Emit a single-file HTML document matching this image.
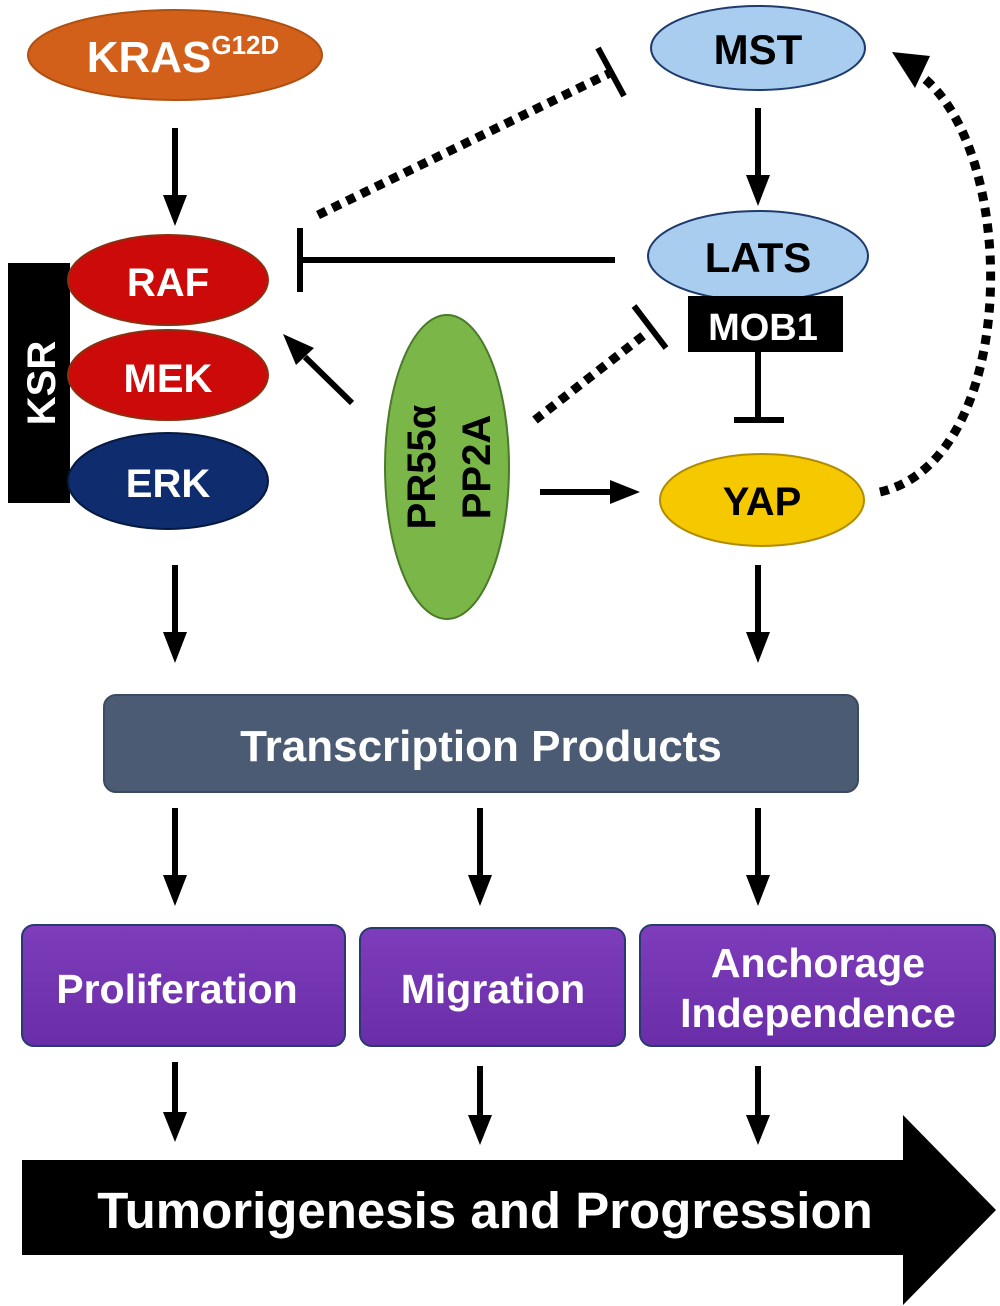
<!DOCTYPE html>
<html><head><meta charset="utf-8"><style>
html,body{margin:0;padding:0;background:#fff;}
svg{display:block;}
text{font-family:"Liberation Sans",sans-serif;font-weight:bold;}
</style></head><body>
<svg width="1000" height="1306" viewBox="0 0 1000 1306" xmlns="http://www.w3.org/2000/svg">
<defs>
<linearGradient id="g1" x1="0" y1="0" x2="0" y2="1"><stop offset="0" stop-color="#7e3dbb"/><stop offset="1" stop-color="#6a2da8"/></linearGradient>
</defs>
<ellipse cx="175" cy="55" rx="147" ry="45" fill="#d2601a" stroke="#b05010" stroke-width="2"/>
<text x="183" y="72" font-size="44" fill="#fff" text-anchor="middle">KRAS<tspan font-size="26" dy="-18">G12D</tspan></text>
<ellipse cx="758" cy="48" rx="107" ry="42" fill="#a8cdee" stroke="#1f3b6e" stroke-width="2"/>
<text x="758" y="64" font-size="42" text-anchor="middle">MST</text>
<ellipse cx="758" cy="256" rx="110" ry="45" fill="#a8cdee" stroke="#1f3b6e" stroke-width="2"/>
<text x="758" y="272" font-size="42" text-anchor="middle">LATS</text>
<rect x="688" y="296" width="155" height="56" fill="#000"/>
<text x="763" y="340" font-size="38" fill="#fff" text-anchor="middle">MOB1</text>
<ellipse cx="762" cy="500" rx="102" ry="46" fill="#f5c800" stroke="#b08d00" stroke-width="2"/>
<text x="762" y="515" font-size="40" text-anchor="middle">YAP</text>
<rect x="8" y="263" width="62" height="240" fill="#000"/>
<text transform="translate(55,383) rotate(-90)" font-size="40" fill="#fff" text-anchor="middle">KSR</text>
<ellipse cx="168" cy="280" rx="100" ry="45" fill="#cc0a0a" stroke="#8a3010" stroke-width="2"/>
<text x="168" y="296" font-size="40" fill="#fff" text-anchor="middle">RAF</text>
<ellipse cx="168" cy="375" rx="100" ry="45" fill="#cc0a0a" stroke="#8a3010" stroke-width="2"/>
<text x="168" y="392" font-size="40" fill="#fff" text-anchor="middle">MEK</text>
<ellipse cx="168" cy="481" rx="100" ry="48" fill="#0f2d6e" stroke="#061a40" stroke-width="2"/>
<text x="168" y="497" font-size="40" fill="#fff" text-anchor="middle">ERK</text>
<ellipse cx="447" cy="467" rx="62" ry="152" fill="#7ab648" stroke="#4a7a2a" stroke-width="2"/>
<text transform="translate(435,467) rotate(-90)" font-size="40" text-anchor="middle">PR55α</text>
<text transform="translate(490,467) rotate(-90)" font-size="40" text-anchor="middle">PP2A</text>
<g stroke="#000" stroke-width="6" fill="none">
<line x1="175" y1="128" x2="175" y2="198"/>
<line x1="758" y1="108" x2="758" y2="178"/>
<line x1="615" y1="260" x2="302" y2="260"/>
<line x1="300" y1="228" x2="300" y2="292"/>
<line x1="318" y1="215" x2="612" y2="72" stroke-dasharray="9,7" stroke-width="9"/>
<line x1="598" y1="48" x2="624" y2="96"/>
<line x1="352" y1="403" x2="305" y2="357"/>
<line x1="535" y1="420" x2="648" y2="332" stroke-dasharray="9,7" stroke-width="9"/>
<line x1="634" y1="306" x2="666" y2="348"/>
<line x1="758" y1="352" x2="758" y2="420"/>
<line x1="734" y1="420" x2="784" y2="420"/>
<line x1="540" y1="492" x2="612" y2="492"/>
<path d="M880,492 C1020,460 1020,150 920,75" stroke-dasharray="9,7" stroke-width="9"/>
<line x1="175" y1="565" x2="175" y2="635"/>
<line x1="758" y1="565" x2="758" y2="635"/>
<line x1="175" y1="808" x2="175" y2="878"/>
<line x1="480" y1="808" x2="480" y2="878"/>
<line x1="758" y1="808" x2="758" y2="878"/>
<line x1="175" y1="1062" x2="175" y2="1115"/>
<line x1="480" y1="1066" x2="480" y2="1118"/>
<line x1="758" y1="1066" x2="758" y2="1118"/>
</g>
<g fill="#000">
<path d="M163,195 L187,195 L175,226 z"/>
<path d="M746,175 L770,175 L758,206 z"/>
<path d="M163,632 L187,632 L175,663 z"/>
<path d="M746,632 L770,632 L758,663 z"/>
<path d="M163,875 L187,875 L175,906 z"/>
<path d="M468,875 L492,875 L480,906 z"/>
<path d="M746,875 L770,875 L758,906 z"/>
<path d="M163,1112 L187,1112 L175,1142 z"/>
<path d="M468,1115 L492,1115 L480,1145 z"/>
<path d="M746,1115 L770,1115 L758,1145 z"/>
<path d="M610,480 L610,504 L640,492 z"/>
<path d="M297,348 L314,365 L284,336 z"/>
<path d="M296,348 L313,366 L284,335 z" />
<path d="M296,347 L314,365 L283,334 z"/>
<path d="M892,52 L930,56 L915,88 z"/>
</g>
<path d="M283,334 L296,365 L314,348 z" fill="#000"/>
<rect x="104" y="695" width="754" height="97" rx="12" fill="#4a5b73" stroke="#3a4a60" stroke-width="2"/>
<text x="481" y="761" font-size="44" fill="#fff" text-anchor="middle">Transcription Products</text>
<rect x="22" y="925" width="323" height="121" rx="12" fill="url(#g1)" stroke="#2a3a70" stroke-width="2"/>
<text x="177" y="1003" font-size="41" fill="#fff" text-anchor="middle">Proliferation</text>
<rect x="360" y="928" width="265" height="118" rx="12" fill="url(#g1)" stroke="#2a3a70" stroke-width="2"/>
<text x="493" y="1003" font-size="41" fill="#fff" text-anchor="middle">Migration</text>
<rect x="640" y="925" width="355" height="121" rx="12" fill="url(#g1)" stroke="#2a3a70" stroke-width="2"/>
<text x="818" y="977" font-size="41" fill="#fff" text-anchor="middle">Anchorage</text>
<text x="818" y="1027" font-size="41" fill="#fff" text-anchor="middle">Independence</text>
<path d="M22,1160 L903,1160 L903,1115 L996,1210 L903,1305 L903,1255 L22,1255 z" fill="#000"/>
<text x="485" y="1228" font-size="51" fill="#fff" text-anchor="middle">Tumorigenesis and Progression</text>
</svg>
</body></html>
